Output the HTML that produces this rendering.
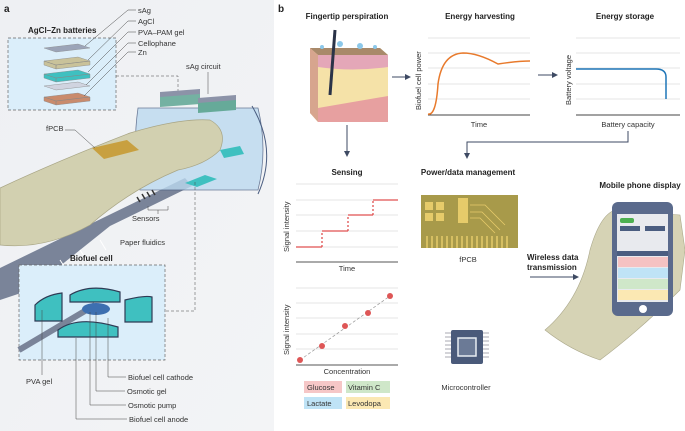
<!DOCTYPE html>
<html><head><meta charset="utf-8"><style>
body{margin:0;width:685px;height:431px;overflow:hidden;background:#fff}
svg{display:block}
text{font-family:"Liberation Sans",sans-serif;fill:#333}
.t{font-weight:bold;font-size:8px;fill:#222}
.l{font-size:7.5px}
.g{stroke:#ddd;stroke-width:.8}
</style></head><body>
<svg width="685" height="431" viewBox="0 0 685 431" xmlns="http://www.w3.org/2000/svg">
<defs><linearGradient id="bg" x1="0" y1="0" x2="1" y2="1"><stop offset="0" stop-color="#eef0f3"/><stop offset="1" stop-color="#f3f4f6"/></linearGradient>
<marker id="ar" markerWidth="6" markerHeight="6" refX="5" refY="3" orient="auto"><path d="M0,0L6,3L0,6z" fill="#3e4a63"/></marker></defs>
<rect x="0" y="0" width="274" height="431" fill="url(#bg)"/>
<text x="4" y="12" class="t" style="font-size:10px">a</text>
<text x="278" y="12" class="t" style="font-size:10px">b</text>
<!-- panel a -->
<text x="28" y="33" class="t">AgCl–Zn batteries</text>
<rect x="8" y="38" width="108" height="72" fill="#dbeefa" stroke="#666" stroke-dasharray="3,2" stroke-width=".7"/>
<g stroke="#888" stroke-width=".4">
<path d="M44,48L78,44L90,48L56,52z" fill="#9ba4b8"/>
<path d="M44,61L78,57L90,61L56,65zM44,61v4l12,4v-4zM56,65v4l34,-4v-4z" fill="#c9c29a"/>
<path d="M44,74L78,70L90,74L56,78zM44,74v4l12,4v-4zM56,78v4l34,-4v-4z" fill="#3fc0c0"/>
<path d="M44,86L78,82L90,86L56,90z" fill="#d0d4e0"/>
<path d="M44,97L78,93L90,97L56,101zM44,97v4l12,4v-4zM56,101v4l34,-4v-4z" fill="#c98b6d"/>
</g>
<g stroke="#444" stroke-width=".5" fill="none">
<path d="M85,46L128,10h8M88,60L128,21h8M88,72L128,32h8M86,85L128,43h8M84,96L128,52h8"/>
<path d="M116,76h62v18" stroke-dasharray="3,2"/>
<path d="M208,72v22"/>
</g>
<g class="l"><text x="138" y="13">sAg</text><text x="138" y="24">AgCl</text><text x="138" y="35">PVA–PAM gel</text><text x="138" y="46">Cellophane</text><text x="138" y="55">Zn</text>
<text x="186" y="69">sAg circuit</text><text x="46" y="131">fPCB</text><text x="120" y="245">Paper fluidics</text>
<text x="26" y="384">PVA gel</text><text x="128" y="380">Biofuel cell cathode</text><text x="127" y="394">Osmotic gel</text><text x="128" y="408">Osmotic pump</text><text x="129" y="422">Biofuel cell anode</text></g>
<!-- paper fluidics -->
<path d="M0,268L185,178L192,186L110,226L30,290L0,300z" fill="#7a8499"/>
<g stroke="#fff" stroke-width="1"><path d="M40,270l8,12M60,260l8,12M80,250l8,12M100,240l6,10"/></g>
<!-- cylinder -->
<path d="M138,108Q132,150 140,190L258,190Q268,150 258,108z" fill="#bcdaf0" opacity=".8" stroke="#4a5d80" stroke-width=".8"/>
<path d="M252,106Q278,150 258,194" fill="none" stroke="#4a5d80"/>
<path d="M160,95L200,92L200,104L160,107z" fill="#6a9" opacity=".9"/>
<path d="M160,92l40,-3l0,5l-40,3z" fill="#8c93a8"/>
<path d="M198,101l38,-3v12l-38,3z" fill="#6a9"/><path d="M198,98l38,-3v5l-38,3z" fill="#8c93a8"/>
<!-- finger -->
<path d="M0,188Q60,160 130,133Q180,118 210,120Q228,130 220,150Q205,165 178,170Q130,190 90,225Q45,250 0,245z" fill="#d2d0b0" stroke="#a8a585" stroke-width=".7"/>
<path d="M92,148l35,-8l12,10l-35,9z" fill="#c8a040"/>
<path d="M65,130h10l20,18" fill="none" stroke="#444" stroke-width=".5"/>
<g stroke="#333" stroke-width="1.5"><path d="M137,197l3,5M142,194l3,5M147,192l3,5M152,190l3,5"/></g>
<path d="M148,206v4h20v-4M158,210v4" fill="none" stroke="#444" stroke-width=".5"/>
<text x="132" y="221" class="l">Sensors</text>
<path d="M185,183l20,-8l12,4l-20,8z" fill="#3fc0c0"/><path d="M220,150l20,-4l4,8l-20,4z" fill="#3fc0c0"/>
<!-- biofuel -->
<text x="70" y="261" class="t">Biofuel cell</text>
<rect x="19" y="265" width="146" height="95" fill="#dbeefa" stroke="#666" stroke-dasharray="3,2" stroke-width=".7"/>
<path d="M195,182V311H165" fill="none" stroke="#444" stroke-width=".5" stroke-dasharray="3,2"/>
<path d="M19,350L95,305" stroke="#7a8499" stroke-width="6"/>
<g fill="#3fc0c0" stroke="#2f3b55" stroke-width="1.2">
<path d="M70,295q20,-12 50,-3v10h-50z"/><path d="M35,305q10,-10 27,-12v28h-27z"/><path d="M125,300q20,-5 27,-3v25h-27z"/><path d="M58,330q20,-15 60,-3v10h-60z"/>
</g>
<ellipse cx="96" cy="309" rx="14" ry="6" fill="#3d6fb0"/>
<g stroke="#444" stroke-width=".5" fill="none"><path d="M42,310V375M108,318V377h18M96,312V391h29M90,312V405h36M76,338V419h51"/></g>
<!-- panel b top -->
<text x="347" y="19" class="t" text-anchor="middle">Fingertip perspiration</text>
<text x="480" y="19" class="t" text-anchor="middle">Energy harvesting</text>
<text x="625" y="19" class="t" text-anchor="middle">Energy storage</text>
<path d="M310,48L380,48L388,55L388,122L318,122L310,113z" fill="#f5e2a8"/>
<path d="M310,48L380,48L388,55L318,55z" fill="#a8896a"/><path d="M318,55h70v12q-35,5 -70,0z" fill="#e4a7b8"/>
<path d="M318,108q35,-6 70,-12v26h-70z" fill="#e7a0a0"/><path d="M318,55v67L310,113V48z" fill="#d7a58e"/>
<path d="M335,30L330,95" stroke="#2a3348" stroke-width="3"/>
<g fill="#8cc8ea"><circle cx="322" cy="47" r="2"/><circle cx="340" cy="44" r="3"/><circle cx="360" cy="46" r="3"/><circle cx="375" cy="47" r="2"/></g>
<path d="M392,77h18" stroke="#3e4a63" marker-end="url(#ar)"/>
<path d="M538,75h19" stroke="#3e4a63" marker-end="url(#ar)"/>
<g class="g"><path d="M428,38h102M428,53h102M428,68h102M428,84h102M428,99h102M576,38h104M576,53h104M576,68h104M576,84h104M576,99h104"/></g>
<path d="M428,115h102M576,115h104" stroke="#444"/>
<path d="M428,114q8,2 10,-30q4,-30 25,-31q15,0 35,11q20,-3 32,-3" fill="none" stroke="#e87a2c" stroke-width="1.5"/>
<path d="M576,69h80q10,0 10,8v22" fill="none" stroke="#1f76b8" stroke-width="1.5"/>
<text class="l" transform="translate(421,110) rotate(-90)">Biofuel cell power</text>
<text class="l" transform="translate(571,105) rotate(-90)">Battery voltage</text>
<text x="479" y="127" class="l" text-anchor="middle">Time</text>
<text x="628" y="127" class="l" text-anchor="middle">Battery capacity</text>
<path d="M628,131V142H467V158" fill="none" stroke="#3e4a63" marker-end="url(#ar)"/>
<path d="M347,125V156" stroke="#3e4a63" marker-end="url(#ar)"/>
<!-- sensing -->
<text x="347" y="175" class="t" text-anchor="middle">Sensing</text>
<text x="468" y="175" class="t" text-anchor="middle">Power/data management</text>
<g class="g"><path d="M296,184h102M296,200h102M296,215h102M296,231h102M296,247h102M296,288h102M296,303h102M296,318h102M296,334h102M296,349h102"/></g>
<path d="M296,262h102M296,365h102" stroke="#555"/>
<path d="M296,247h26M322,231h26M348,215h25M373,200h25" stroke="#e05050" stroke-width="1.3"/>
<path d="M322,247V231M348,231V215M373,215V200" stroke="#e05050" stroke-width="1.3" stroke-dasharray="2,2"/>
<path d="M300,360L390,296" stroke="#999" stroke-dasharray="3,2" stroke-width=".7"/>
<g fill="#de5656"><circle cx="300" cy="360" r="3"/><circle cx="322" cy="346" r="3"/><circle cx="345" cy="326" r="3"/><circle cx="368" cy="313" r="3"/><circle cx="390" cy="296" r="3"/></g>
<text class="l" transform="translate(289,252) rotate(-90)">Signal intensity</text>
<text class="l" transform="translate(289,355) rotate(-90)">Signal intensity</text>
<text x="347" y="271" class="l" text-anchor="middle">Time</text>
<text x="347" y="374" class="l" text-anchor="middle">Concentration</text>
<rect x="304" y="381" width="38" height="12" fill="#f6c7c7"/><rect x="346" y="381" width="44" height="12" fill="#cfe7c9"/>
<rect x="304" y="397" width="38" height="12" fill="#bfe3f6"/><rect x="346" y="397" width="44" height="12" fill="#fbe8b3"/>
<text x="307" y="390" class="l">Glucose</text><text x="348" y="390" class="l">Vitamin C</text><text x="307" y="406" class="l">Lactate</text><text x="348" y="406" class="l">Levodopa</text>
<!-- fPCB -->
<rect x="421" y="195" width="97" height="53" fill="#a89a4a"/>
<g fill="#e6cb6a"><rect x="425" y="202" width="8" height="8"/><rect x="436" y="202" width="8" height="8"/><rect x="425" y="213" width="8" height="8"/><rect x="436" y="213" width="8" height="8"/><rect x="458" y="198" width="10" height="25"/></g>
<g stroke="#e6cb6a" stroke-width="1.5"><path d="M427,236v12M432,236v12M437,236v12M442,236v12M447,236v12M452,236v12M457,236v12M462,236v12M467,236v12M472,236v12M477,236v12M482,236v12M487,236v12M492,236v12M497,236v12M502,236v12M507,236v12"/></g>
<g stroke="#e6cb6a" stroke-width=".8" fill="none"><path d="M470,205h15l20,20M470,212h12l18,18M470,218h10l15,15"/></g>
<text x="468" y="262" class="l" text-anchor="middle">fPCB</text>
<rect x="451" y="330" width="32" height="34" fill="#4a5a7a" rx="2"/><rect x="458" y="338" width="18" height="18" fill="#6b7a96" stroke="#e8ecf2" stroke-width="1.5"/>
<g stroke="#556" stroke-width=".5"><path d="M445,333h6M445,337h6M445,341h6M445,345h6M445,349h6M445,353h6M445,357h6M483,333h6M483,337h6M483,341h6M483,345h6M483,349h6M483,353h6M483,357h6"/></g>
<text x="466" y="390" class="l" text-anchor="middle">Microcontroller</text>
<text x="527" y="260" class="t">Wireless data</text><text x="527" y="270" class="t">transmission</text>
<path d="M530,277h48" stroke="#3e4a63" marker-end="url(#ar)"/>
<text x="640" y="188" class="t" text-anchor="middle">Mobile phone display</text>
<path d="M545,330Q580,300 590,250Q600,215 615,210L680,215L685,250L680,290Q640,330 600,360Q570,350 545,330z" fill="#d6d3b5" stroke="#aaa78a" stroke-width=".6"/>
<rect x="612" y="202" width="61" height="114" rx="6" fill="#5a6a8c"/>
<rect x="617" y="214" width="51" height="88" fill="#e8eaee"/>
<rect x="620" y="218" width="14" height="5" rx="2" fill="#4caf50"/>
<rect x="620" y="226" width="20" height="5" fill="#4a5d80"/><rect x="645" y="226" width="20" height="5" fill="#4a5d80"/>
<rect x="617" y="251" width="51" height="5" fill="#4a5d80"/>
<rect x="618" y="257" width="50" height="10" fill="#f5c2c2"/><rect x="618" y="268" width="50" height="10" fill="#bfe3f6"/><rect x="618" y="279" width="50" height="10" fill="#cfe7c9"/><rect x="618" y="290" width="50" height="10" fill="#fbe8b3"/>
<circle cx="643" cy="309" r="4" fill="#fff"/>
</svg>
</body></html>
